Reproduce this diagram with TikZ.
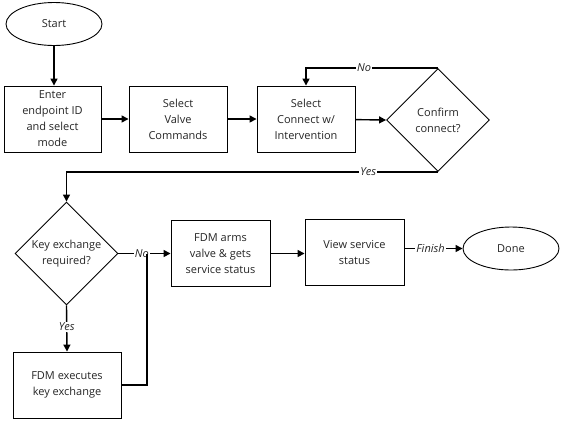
\documentclass[tikz,border=0pt]{standalone}
\usepackage{fontspec}
\setmainfont{Open Sans}
\usetikzlibrary{shapes.geometric,arrows.meta}
\begin{document}
\begin{tikzpicture}[x=1pt,y=-1pt,
  every node/.style={font=\fontsize{11}{16}\selectfont, text=black!85},
  boxnode/.style={draw, line width=0.9pt, align=center, inner sep=0pt, minimum width=#1, minimum height=66pt},
  term/.style={draw, line width=0.9pt, ellipse, inner sep=0pt, minimum width=96pt, minimum height=43pt},
  dec/.style={draw, line width=0.9pt, diamond, align=center, inner sep=-6pt, minimum width=103pt, minimum height=103pt},
  arr/.style={line width=1.4pt, -{Triangle[length=7pt,width=7pt]}},
  ln/.style={line width=1.4pt},
  lbl/.style={fill=white, inner sep=1pt, font=\fontsize{11}{13}\selectfont\itshape}
]
\useasboundingbox (0,0) rectangle (561,424);
\fill[white] (0,0) rectangle (561,424);

\node[term] (start) at (54,24) {Start};
\node[boxnode=97pt] (b1) at (52.5,119) {Enter\\endpoint ID\\and select\\mode};
\node[boxnode=98pt] (b2) at (178,119) {Select\\Valve\\Commands};
\node[boxnode=98pt] (b3) at (306,119) {Select\\Connect w/\\Intervention};
\node[dec] (d1) at (438,120) {Confirm\\connect?};
\node[dec] (d2) at (66.5,253.5) {Key exchange\\required?};
\node[boxnode=99pt] (b4) at (220.5,253.5) {FDM arms\\valve \& gets\\service status};
\node[boxnode=99pt] (b5) at (354.5,252.5) {View service\\status};
\node[term] (done) at (511,248.5) {Done};
\node[boxnode=108pt] (b6) at (67,385) {FDM executes\\key exchange};
\coordinate (j) at (147,253.5);

\draw[arr] (start.south) -- (start.south |- b1.north);
\draw[arr] (b1) -- (b2);
\draw[arr] (b2) -- (b3);
\draw[arr] (b3) -- (d1.west);
\draw[arr] (d1.north) -| node[lbl, pos=0.28] {No} (b3.north);
\draw[arr] (d1.south) -| node[lbl, pos=0.094] {Yes} (d2.north);
\draw[arr] (d2.east) -- node[lbl, pos=0.45] {No} (b4.west);
\draw[arr] (d2.south) -- node[lbl, pos=0.46] {Yes} (b6.north);
\draw[ln] (b6.east) -| (j);
\draw[arr] (b4.east) -- (b5.west |- b4.east);
\draw[arr] (done.west -| b5.east) -- node[lbl, pos=0.45] {Finish} (done.west);
\end{tikzpicture}
\end{document}
